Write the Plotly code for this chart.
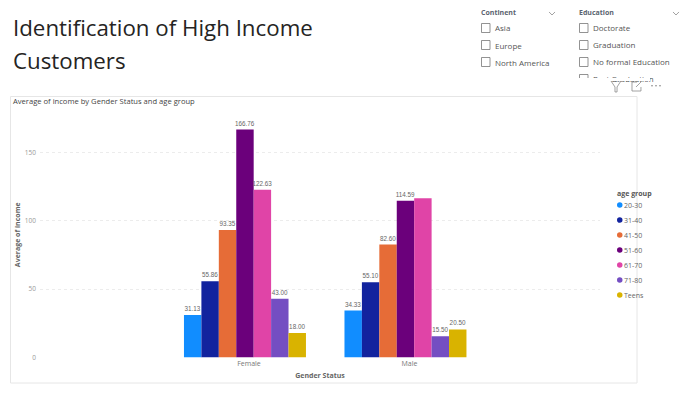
import plotly.graph_objects as go

W, H = 680, 409

genders = ["Female", "Male"]
age_groups = ["20-30", "31-40", "41-50", "51-60", "61-70", "71-80", "Teens"]
female_income = [31.13, 55.86, 93.35, 166.76, 122.63, 43.00, 18.00]
male_income = [34.33, 55.10, 82.60, 114.59, 116.50, 15.50, 20.50]
male_labels = ["34.33", "55.10", "82.60", "114.59", "", "15.50", "20.50"]
colors = ["#118DFF", "#12239E", "#E66C37", "#6B007B", "#E044A7", "#744EC2", "#D9B300"]

continents = ["Asia", "Europe", "North America"]
educations = ["Doctorate", "Graduation", "No formal Education", "Post Graduation"]

FONT = "Open Sans"
LABEL_FONT = "Liberation Sans"


def px(x):
    return x / W


def py(y):
    return 1 - y / H


def add_text(fig, x, y, text, size, color="#555555", anchor="left", angle=0, family=FONT):
    fig.add_annotation(
        x=px(x - 2), y=py(y), xref="paper", yref="paper", text=text, showarrow=False,
        xanchor=anchor, yanchor="middle", textangle=angle,
        font=dict(size=size, color=color, family=family),
    )


def add_line(fig, path, color="#8a8a8a", width=0.8):
    fig.add_shape(type="path", path=path, xref="paper", yref="paper",
                  line=dict(color=color, width=width))


def path_of(points):
    return "M " + " L ".join(f"{px(a):.4f} {py(b):.4f}" for a, b in points)


def add_box(fig, x0, y0, x1, y1, line="#777777", fill=None, width=0.8):
    fig.add_shape(type="rect", xref="paper", yref="paper", x0=px(x0), x1=px(x1),
                  y0=py(y0), y1=py(y1), line=dict(color=line, width=width),
                  fillcolor=fill)


def add_cover(fig, x0, y0, x1, y1):
    fig.add_annotation(
        x=px(x0), y=py(y0), xref="paper", yref="paper", text=" ", showarrow=False,
        xanchor="left", yanchor="top", width=x1 - x0, height=y1 - y0, bgcolor="white",
        borderpad=0, borderwidth=0,
    )


fig = go.Figure()

# one trace per age group, labels drawn by the bars themselves
for i, age in enumerate(age_groups):
    fig.add_trace(
        go.Bar(
            x=genders,
            y=[female_income[i], male_income[i]],
            name=age,
            marker=dict(color=colors[i], line=dict(width=0)),
            text=[f"{female_income[i]:.2f}", male_labels[i]],
            texttemplate="%{text}",
            textposition="outside",
            textangle=0,
            constraintext="none",
            cliponaxis=False,
            textfont=dict(size=6.3, color="#666666", family=LABEL_FONT),
        )
    )

# report title
add_text(fig, 13, 27, "Identification of High Income", 22.3, "#252423")
add_text(fig, 13, 60, "Customers", 22.3, "#252423")

# chart card
add_box(fig, 10.5, 96.5, 637, 383, line="#e6e6e6", width=1)
add_text(fig, 13, 101, "Average of income by Gender Status and age group", 7.6, "#444444")

# slicers
add_text(fig, 481, 13, "<b>Continent</b>", 7, "#5b6470")
add_text(fig, 579, 13, "<b>Education</b>", 7, "#5b6470")
add_line(fig, path_of([(549, 12), (552, 15), (555, 12)]))
add_line(fig, path_of([(673, 12), (676, 15), (679, 12)]))
for i, name in enumerate(continents):
    y = 28 + i * 17
    add_box(fig, 481.5, y - 4.5, 490, y + 4.5)
    add_text(fig, 495, y, name, 8, "#555555")
for i, name in enumerate(educations):
    y = 28 + i * 17
    add_box(fig, 579.5, y - 4.5, 588, y + 4.5)
    add_text(fig, 593, y - 0.5, name, 8, "#555555")

# hides the lower half of the last slicer row, it scrolls out of view there
add_cover(fig, 575, 78, 610, 86)
add_cover(fig, 610, 78, 650, 80.6)

# visual header icons
add_line(fig, path_of([(611, 81), (621, 81), (617, 87), (617, 92), (615, 92), (615, 87), (611, 81)]))
add_line(fig, path_of([(637, 82), (632, 82), (632, 91), (641, 91), (641, 87)]))
add_line(fig, path_of([(636, 87), (641, 82)]))
for dot_x in (652, 656, 660):
    fig.add_shape(type="circle", xref="paper", yref="paper", x0=px(dot_x - 0.7), x1=px(dot_x + 0.7),
                  y0=py(85), y1=py(86.4), fillcolor="#666666", line=dict(width=0))

# legend
add_text(fig, 617, 193, "<b>age group</b>", 7, "#555555")
for i, age in enumerate(age_groups):
    y = 205 + i * 15
    fig.add_shape(type="circle", xref="paper", yref="paper", x0=px(617), x1=px(622.5),
                  y0=py(y - 2.8), y1=py(y + 2.8), fillcolor=colors[i], line=dict(width=0))
    add_text(fig, 624, y, age, 7, "#666666")

fig.update_layout(
    width=W,
    height=H,
    margin=dict(l=0, r=0, t=0, b=0),
    autosize=False,
    paper_bgcolor="white",
    plot_bgcolor="white",
    showlegend=False,
    barmode="group",
    bargap=0.24,
    bargroupgap=0,
    xaxis=dict(
        domain=[px(40), px(600)],
        anchor="y",
        type="category",
        range=[-1.277, 2.212],
        automargin=False,
        showgrid=False,
        zeroline=False,
        showline=False,
        ticks="",
        ticklabelshift=4,
        tickfont=dict(size=7, color="#777777", family=FONT),
        title=dict(text="<b>Gender Status</b>", font=dict(size=7, color="#666666", family=FONT), standoff=6),
    ),
    yaxis=dict(
        domain=[py(357.5), py(112)],
        anchor="x",
        range=[0, 179.6],
        tickvals=[0, 50, 100, 150],
        automargin=False,
        showgrid=True,
        gridcolor="#ececec",
        griddash="dot",
        gridwidth=1,
        zeroline=False,
        showline=False,
        ticks="",
        ticklabelstandoff=3,
        tickfont=dict(size=6.5, color="#999999", family=FONT),
        title=dict(text="<b>Average of income</b>", font=dict(size=7, color="#666666", family=FONT), standoff=3),
    ),
)

fig.write_html("out.html", post_script="document.body.style.margin='0';", config=dict(displayModeBar=False))
